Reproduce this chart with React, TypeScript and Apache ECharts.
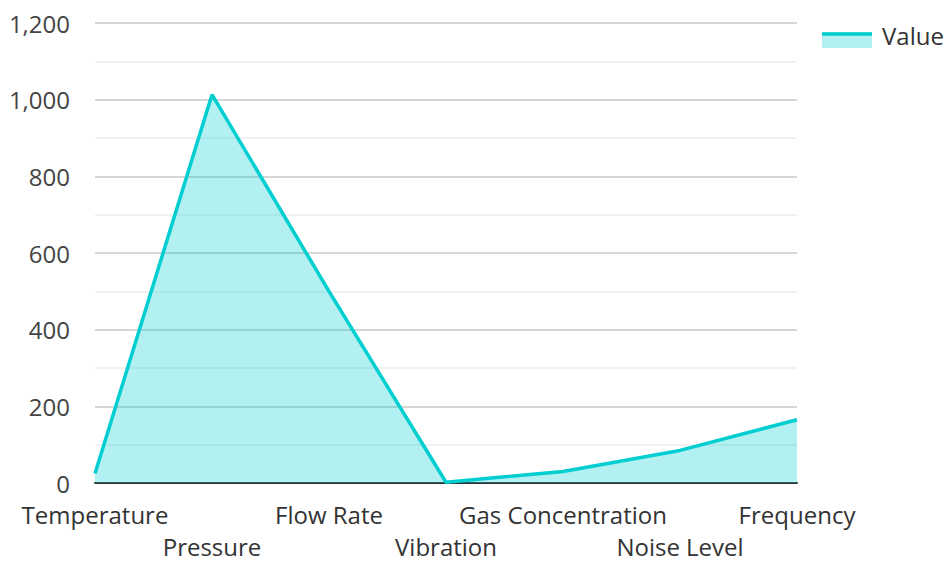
import React, { useEffect, useRef } from "react";
import * as echarts from "echarts";

const categories = ["Temperature", "Pressure", "Flow Rate", "Vibration", "Gas Concentration", "Noise Level", "Frequency"];
const values = [25, 1013, 500, 2, 30, 85, 165];
const seriesName = "Value";
const lineColor = "#00CED1";
const areaColor = "#b2f0f1";

export default function App() {
  const ref = useRef<HTMLDivElement>(null);
  useEffect(() => {
    if (!ref.current) return;
    const chart = echarts.init(ref.current, undefined, { renderer: "svg" });
    const font = "'Open Sans', 'Noto Sans', sans-serif";
    chart.setOption({
      animation: false,
      backgroundColor: "#fff",
      textStyle: { fontFamily: font },
      grid: { left: 95, right: 150, top: 23, bottom: 72, containLabel: false },
      legend: {
        data: [{ name: seriesName, icon: "rect", itemStyle: { color: "rgba(0,0,0,0)", borderWidth: 0 } }],
        left: 822,
        top: 18,
        itemWidth: 50,
        itemHeight: 16,
        itemGap: 10,
        textStyle: { fontSize: 24, color: "#333", fontFamily: font },
      },
      graphic: [
        {
          type: "rect",
          shape: { x: 822, y: 32, width: 50, height: 16 },
          style: { fill: areaColor },
          silent: true,
          z: 100,
        },
        {
          type: "line",
          shape: { x1: 822, y1: 34, x2: 872, y2: 34 },
          style: { stroke: lineColor, lineWidth: 3.5 },
          silent: true,
          z: 101,
        },
      ],
      xAxis: {
        type: "category",
        data: categories,
        boundaryGap: false,
        axisLine: { show: true, lineStyle: { color: "#333", width: 2 } },
        axisTick: { show: false },
        splitLine: { show: false },
        axisLabel: {
          interval: 0,
          margin: 15,
          fontSize: 24,
          lineHeight: 32,
          color: "#333",
          fontFamily: font,
          formatter: (v: string, i: number) => (i % 2 === 1 ? "\n" + v : v),
        },
      },
      yAxis: {
        type: "value",
        min: 0,
        max: 1200,
        interval: 200,
        axisLine: { show: false },
        axisTick: { show: false },
        axisLabel: {
          margin: 25,
          fontSize: 24,
          lineHeight: 18,
          padding: [0, 0, 6, 0],
          color: "#444",
          fontFamily: font,
          formatter: (v: number) => v.toLocaleString("en-US"),
        },
        splitLine: { show: true, lineStyle: { color: "#c8c8c8", width: 1.5 } },
        minorTick: { show: false, splitNumber: 2 },
        minorSplitLine: { show: true, lineStyle: { color: "#ececec", width: 1.5 } },
      },
      series: [
        {
          name: seriesName,
          type: "line",
          data: values,
          symbol: "none",
          lineStyle: { color: lineColor, width: 3.5 },
          itemStyle: { color: lineColor },
          areaStyle: { color: lineColor, opacity: 0.3 },
          z: 3,
        },
      ],
    });
    return () => chart.dispose();
  }, []);
  return <div ref={ref} style={{ width: 947, height: 562, position: "absolute", left: 0, top: 0 }} />;
}
